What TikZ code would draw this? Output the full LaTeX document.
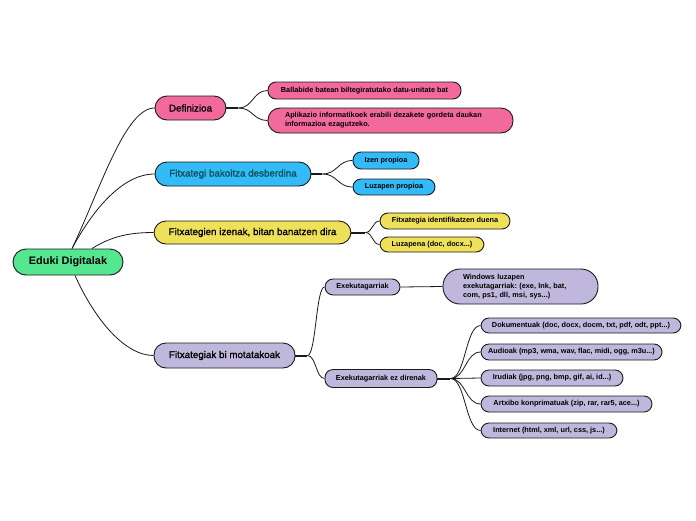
\documentclass[tikz,border=0pt]{standalone}
\usepackage{fontspec}
\setmainfont{Liberation Sans}
\newfontfamily\semibf[FakeBold=1.2]{Liberation Sans}
\frenchspacing
\usetikzlibrary{calc}
\definecolor{cgreen}{HTML}{55E690}
\definecolor{cpink}{HTML}{F26A9B}
\definecolor{cblue}{HTML}{33BBF7}
\definecolor{cyellow}{HTML}{EFE05A}
\definecolor{clav}{HTML}{BFB8DC}
\definecolor{cteal}{HTML}{0E4F5C}
\definecolor{cline}{HTML}{1A1A1A}
\newcommand\mmcurve[2]{\draw[conn] (#1) .. controls ($(#1)!0.5!(#2 |- #1)$) and ($(#2)!0.5!(#1 |- #2)$) .. (#2);}
\begin{document}
\begin{tikzpicture}[x=1pt,y=-1pt,
  box/.style={draw=cline, line width=0.9pt, fill=#1, inner sep=0pt, align=center},
  rootbox/.style={box=cgreen, rounded corners=13pt, minimum height=26pt, font=\bfseries\fontsize{10.9}{12}\selectfont},
  lvlone/.style={box=#1, rounded corners=12pt, minimum height=24pt, font=\semibf\fontsize{9.8}{11}\selectfont},
  lvltwo/.style={box=#1, rounded corners=8pt, minimum height=16pt, font=\bfseries\fontsize{7.3}{9}\selectfont\frenchspacing},
  conn/.style={draw=cline, line width=0.8pt},
  stub/.style={draw=cline, line width=2pt}]
\useasboundingbox[fill=white] (0,0) rectangle (696,520);

% nodes
\node[rootbox, minimum width=110pt] (root) at (68,262) {Eduki Digitalak};

\node[lvlone=cpink, minimum width=71pt] (def) at (190.5,108) {Definizioa};
\node[lvltwo=cpink, minimum width=193pt, minimum height=17pt] (bal) at (364.5,90.5) {Ballabide batean biltegiratutako datu-unitate bat};
\node[lvltwo=cpink, rounded corners=12pt, minimum height=25pt, text width=211pt, inner xsep=17pt, align=left] (apl) at (390.5,120.5) {Aplikazio informatikoek erabili dezakete gordeta daukan\\informazioa ezagutzeko.};

\node[lvlone=cblue, minimum width=156pt, text=cteal] (bak) at (233,174) {Fitxategi bakoitza desberdina};
\node[lvltwo=cblue, minimum width=66pt, minimum height=17pt] (izen) at (386,160.5) {Izen propioa};
\node[lvltwo=cblue, minimum width=82pt] (luz) at (394,187) {Luzapen propioa};

\node[lvlone=cyellow, minimum width=197pt, minimum height=23pt] (fiz) at (252.5,232.5) {Fitxategien izenak, bitan banatzen dira};
\node[lvltwo=cyellow, minimum width=130pt] (fid) at (445,221) {Fitxategia identifikatzen duena};
\node[lvltwo=cyellow, minimum width=104pt, minimum height=15pt] (lzp) at (432,244.5) {Luzapena (doc, docx...)};

\node[lvlone=clav, minimum width=141pt, minimum height=25pt] (bim) at (224.5,355.5) {Fitxategiak bi motatakoak};
\node[lvltwo=clav, minimum width=75pt] (exe) at (362.5,287) {Exekutagarriak};
\node[lvltwo=clav, rounded corners=17pt, minimum height=35pt, text width=115pt, inner xsep=20pt, align=left] (win) at (520.5,286.5) {Windows luzapen\\exekutagarriak: (exe, lnk, bat,\\com, ps1, dll, msi, sys...)};
\node[lvltwo=clav, minimum width=112pt, minimum height=18pt] (ezd) at (381,378.5) {Exekutagarriak ez direnak};
\node[lvltwo=clav, minimum width=200pt, minimum height=15pt] (dok) at (581,325.5) {Dokumentuak (doc, docx, docm, txt, pdf, odt, ppt...)};
\node[lvltwo=clav, minimum width=181pt] (aud) at (571.5,352) {Audioak (mp3, wma, wav, flac, midi, ogg, m3u...)};
\node[lvltwo=clav, minimum width=142pt] (iru) at (552,378) {Irudiak (jpg, png, bmp, gif, ai, id...)};
\node[lvltwo=clav, minimum width=171pt] (art) at (566.5,404) {Artxibo konprimatuak (zip, rar, rar5, ace...)};
\node[lvltwo=clav, minimum width=136pt, minimum height=15pt] (int) at (549,430.5) {Internet (html, xml, url, css, js...)};

% root connectors
\coordinate (r1) at ($(root.north)+(4,0)$);
\coordinate (r2) at ($(root.north)+(24,0)$);
\coordinate (r3) at ($(root.south)+(7,0)$);
\draw[conn] (r1) .. controls (100,190) and (125,108) .. (def.west);
\draw[conn] (r1) .. controls (90,215) and (120,174) .. (bak.west);
\draw[conn] (r2) .. controls (112,236) and (130,232.5) .. (fiz.west);
\draw[conn] (r3) .. controls (95,320) and (125,355.5) .. (bim.west);

% branch points
\coordinate (bdef) at ($(def.east)+(12,0)$);
\coordinate (bbak) at ($(bak.east)+(11,0)$);
\coordinate (bfiz) at ($(fiz.east)+(14,0)$);
\coordinate (bbim) at ($(bim.east)+(12,0)$);
\coordinate (bezd) at ($(ezd.east)+(13,0)$);

\draw[stub] (def.east) -- (bdef);
\draw[stub] (bak.east) -- (bbak);
\draw[stub] (fiz.east) -- (bfiz);
\draw[stub] (bim.east) -- (bbim);
\draw[stub] (ezd.east) -- (bezd);

\mmcurve{bdef}{bal.west}
\mmcurve{bdef}{apl.west}
\mmcurve{bbak}{izen.west}
\mmcurve{bbak}{luz.west}
\mmcurve{bfiz}{fid.west}
\mmcurve{bfiz}{lzp.west}
\mmcurve{bbim}{exe.west}
\mmcurve{bbim}{ezd.west}
\mmcurve{bezd}{dok.west}
\mmcurve{bezd}{aud.west}
\mmcurve{bezd}{iru.west}
\mmcurve{bezd}{art.west}
\mmcurve{bezd}{int.west}
\draw[conn] (exe.east) -- (win.west);
\end{tikzpicture}
\end{document}
